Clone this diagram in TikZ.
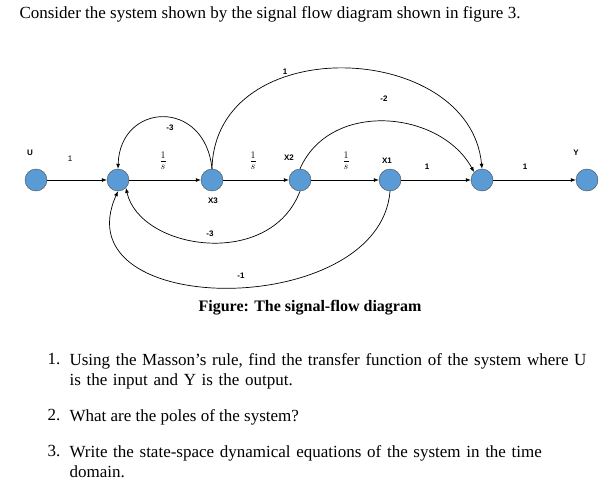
\documentclass[tikz,border=0pt]{standalone}
\usepackage{fontspec}
\setmainfont{Liberation Serif}
\newfontfamily\lab{Liberation Sans}
\usetikzlibrary{arrows.meta}
\definecolor{nodeblue}{RGB}{91,155,213}
\begin{document}
\begin{tikzpicture}[x=1pt,y=-1pt,
  nd/.style={circle,draw=black!70,fill=nodeblue,minimum size=22pt,inner sep=0pt},
  br/.style={draw,-{Latex[length=5pt,width=4pt]},line width=0.7pt},
  lb/.style={font=\lab\bfseries\fontsize{8}{9}\selectfont},
  fr/.style={font=\fontsize{14}{15}\selectfont},
  tx/.style={font=\fontsize{17}{20}\selectfont}]
\useasboundingbox (0,0) rectangle (605,487);
\node[anchor=west,tx] (title) at (16,14) {Consider the system shown by the signal flow diagram shown in figure 3.};
\node[nd] (U) at (36,180) {};
\node[nd] (n1) at (118,180) {};
\node[nd] (X3) at (212,180) {};
\node[nd] (X2) at (300,180) {};
\node[nd] (X1) at (390,180) {};
\node[nd] (n5) at (482,180) {};
\node[nd] (Y) at (587,180) {};
\draw[br] (U) -- (n1);
\draw[br] (n1) -- (X3);
\draw[br] (X3) -- (X2);
\draw[br] (X2) -- (X1);
\draw[br] (X1) -- (n5);
\draw[br] (n5) -- (Y);
\draw[br] (X3.north) .. controls (205,98) and (120,102) .. (n1.north);
\draw[br] (X3.north) .. controls (215,30) and (470,40) .. (n5.north);
\draw[br] (X2.north) .. controls (330,100) and (440,110) .. (n5.north west);
\draw[br] (X2.south) .. controls (270,270) and (140,250) .. (n1.south east);
\draw[br] (X1.south) .. controls (380,320) and (60,320) .. (n1.south);
\node[lb] (lU) at (30,153) {U};
\node[lb] (lY) at (576,153) {Y};
\node[lb] (lX3) at (213,201) {X3};
\node[lb] (lX2) at (289,158) {X2};
\node[lb] (lX1) at (387,161) {X1};
\node[lb,font=\lab\fontsize{8}{9}\selectfont] (g1) at (70,159) {1};
\node[fr] (g2) at (163,161) {$\frac{1}{s}$};
\node[fr] (g3) at (253,161) {$\frac{1}{s}$};
\node[fr] (g4) at (346,161) {$\frac{1}{s}$};
\node[lb] (g5) at (427,167) {1};
\node[lb] (g6) at (525,167) {1};
\node[lb] (g7) at (170,128) {-3};
\node[lb] (g8) at (285,72) {1};
\node[lb] (g9) at (384,99) {-2};
\node[lb] (g10) at (210,234) {-3};
\node[lb] (g11) at (241,276) {-1};
\node[tx,font=\bfseries\fontsize{16}{19}\selectfont] (cap) at (310,308) {Figure: The signal-flow diagram};
\node[anchor=north west,tx] (q1n) at (44,350) {1.};
\node[anchor=north west,text width=520pt,align=left,tx] (q1) at (66,350) {Using the Masson’s rule, find the transfer function of the system where U is the input and Y is the output.};
\node[anchor=north west,tx] (q2n) at (44,406) {2.};
\node[anchor=north west,tx] (q2) at (66,406) {What are the poles of the system?};
\node[anchor=north west,tx] (q3n) at (44,442) {3.};
\node[anchor=north west,text width=500pt,align=left,tx] (q3) at (66,442) {Write the state-space dynamical equations of the system in the time domain.};
\end{tikzpicture}
\end{document}
